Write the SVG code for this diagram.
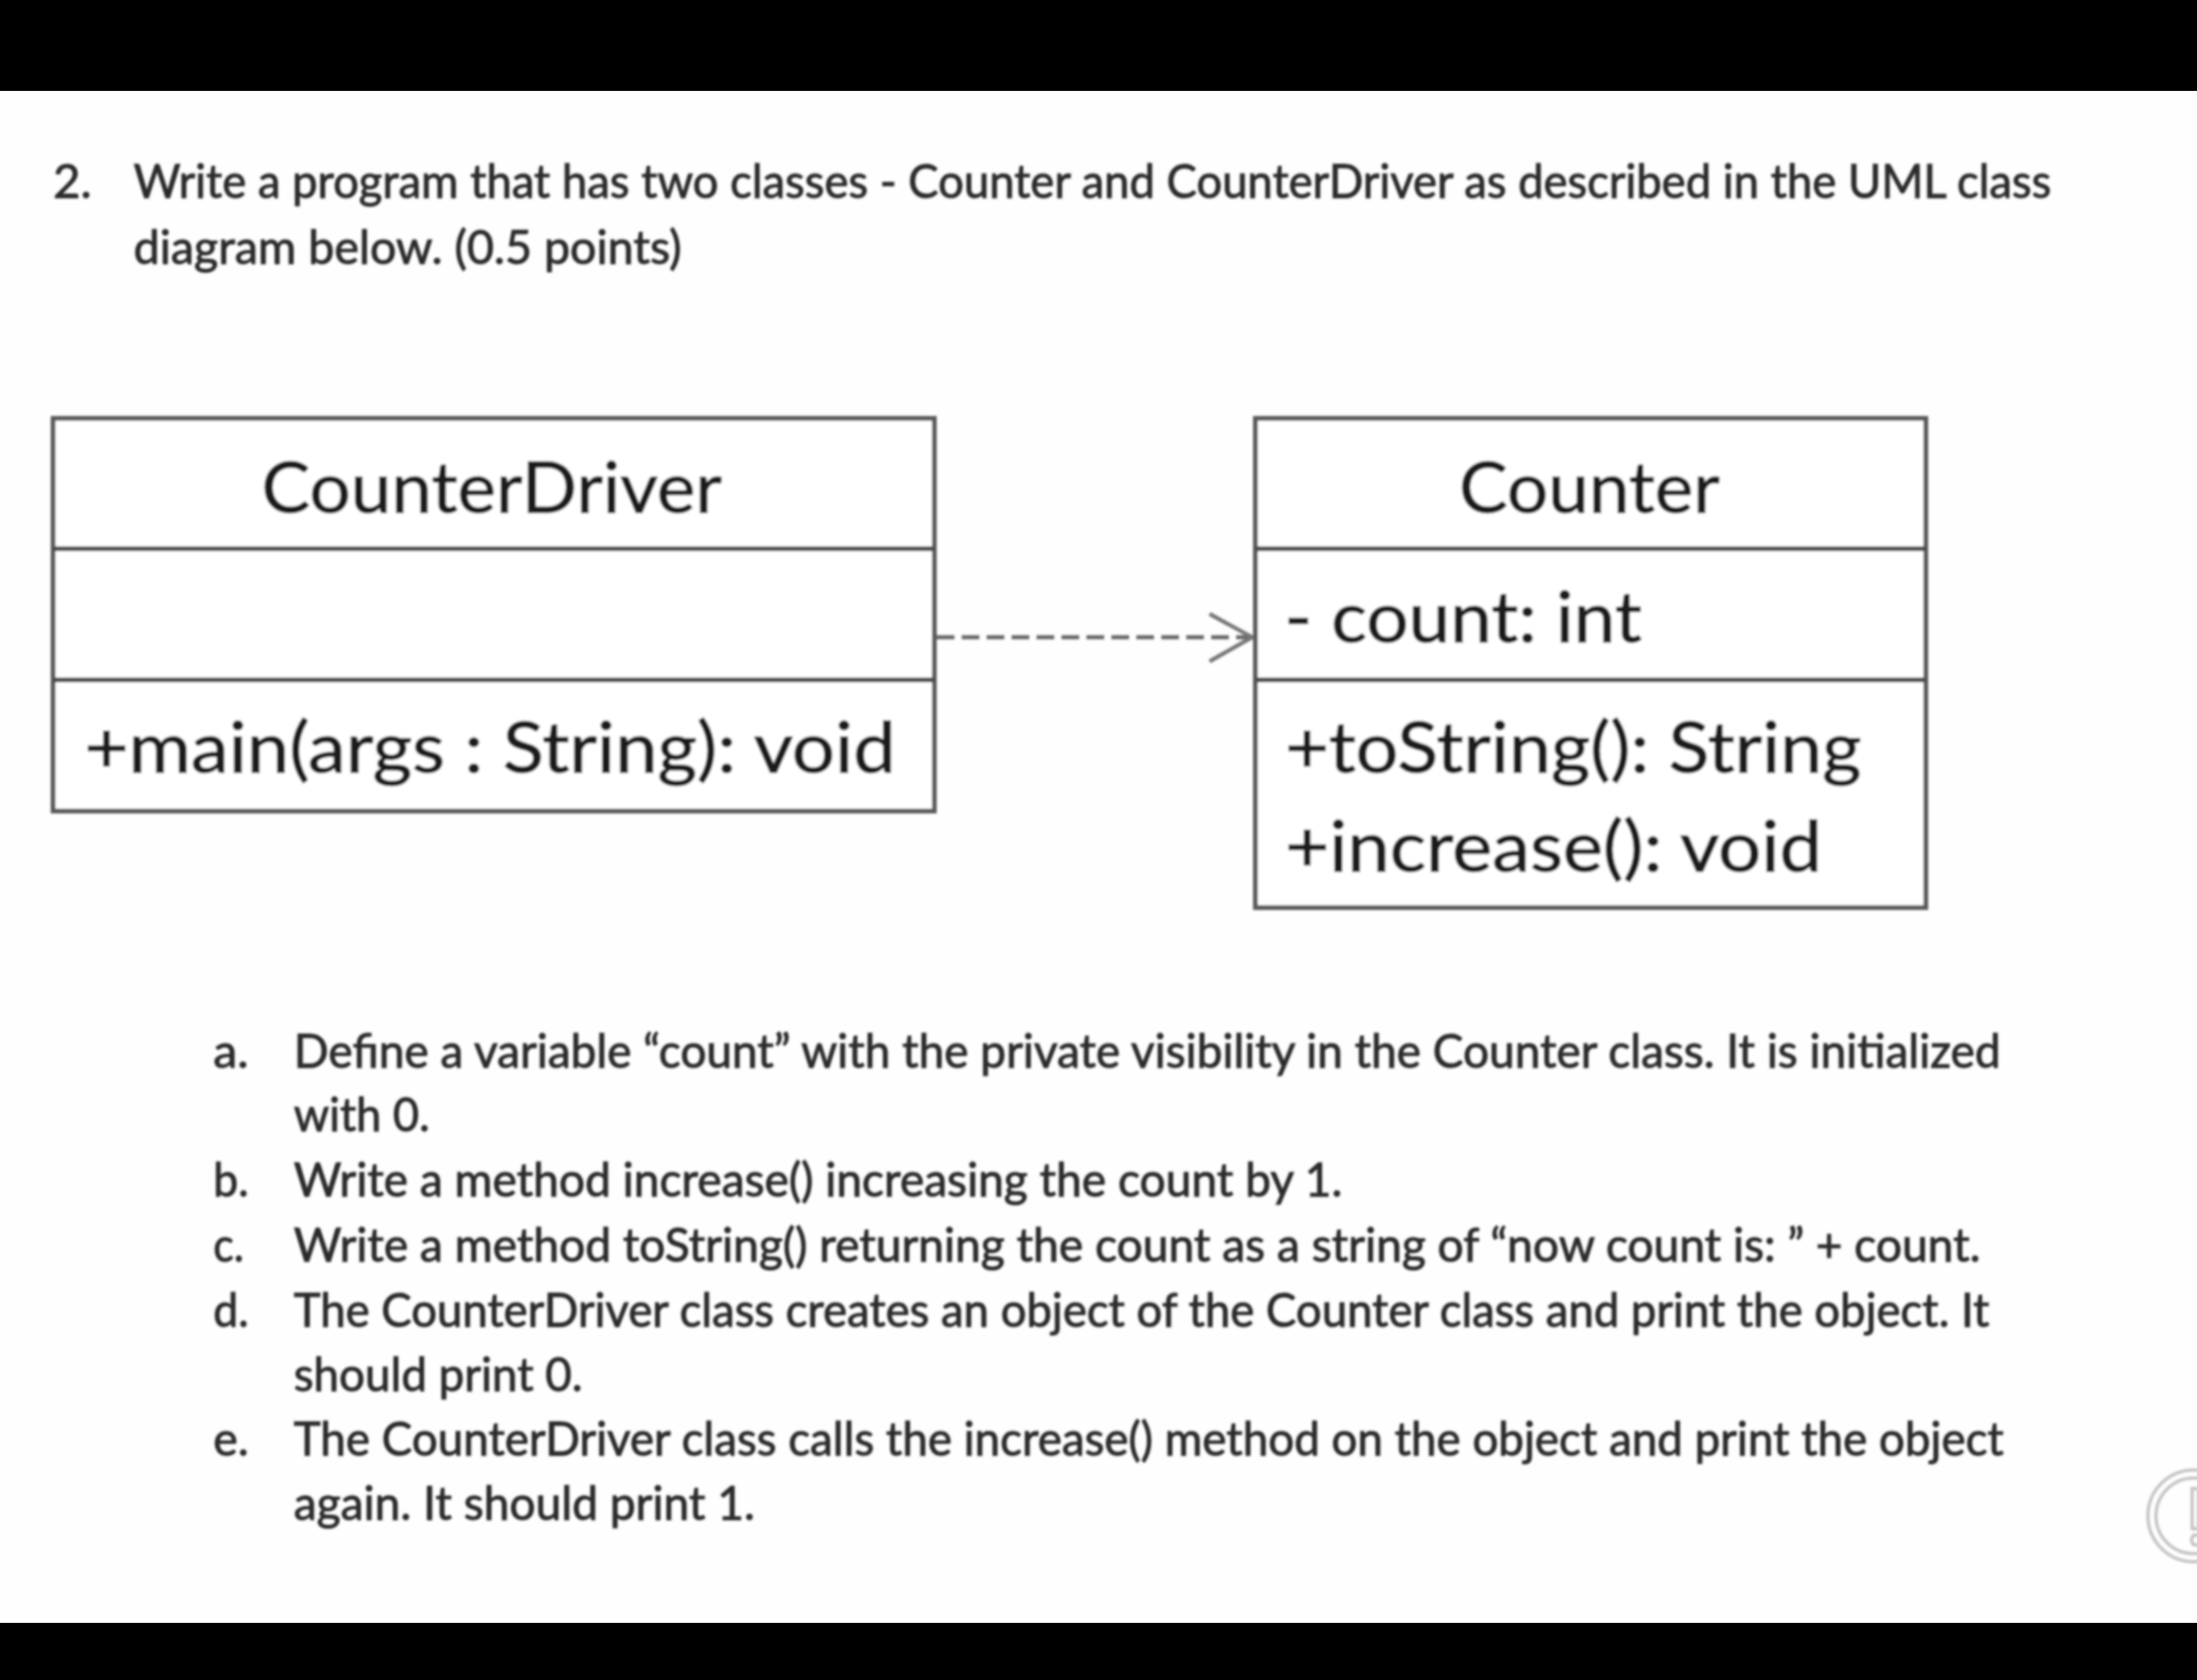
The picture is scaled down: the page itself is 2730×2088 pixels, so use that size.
<svg xmlns="http://www.w3.org/2000/svg" width="2730" height="2088" viewBox="0 0 2730 2088">
<style>
.t{font-family:"Lato","Open Sans","Liberation Sans",sans-serif;fill:#2c2c2c;font-size:58px;stroke:#2c2c2c;stroke-width:1.1px}
.u{font-family:"Lato","Open Sans","Liberation Sans",sans-serif;fill:#1c1c1c;font-size:87px;stroke:#1c1c1c;stroke-width:1.3px}
.b{fill:#fff;stroke:#5c5c5c;stroke-width:6}
.d{stroke:#4c4c4c;stroke-width:6;fill:none}
.c{stroke:#666;stroke-width:5;fill:none}
</style>
<defs>
<filter id="s" x="-5%" y="-5%" width="110%" height="110%"><feGaussianBlur stdDeviation="1.6"/></filter>
<marker id="open" markerUnits="userSpaceOnUse" markerWidth="70" markerHeight="80" refX="56" refY="32" orient="auto"><path d="M3 3L56 32L3 62" fill="none" stroke="#777" stroke-width="5"/></marker>
</defs>
<rect width="2730" height="2088" fill="#fefefe"/>
<rect width="2730" height="113" fill="#000"/>
<rect y="2017" width="2730" height="71" fill="#000"/>
<g filter="url(#s)">
<g id="heading">
<text class="t" x="66" y="246" textLength="48" lengthAdjust="spacingAndGlyphs">2.</text>
<text class="t" x="166" y="246" textLength="2383" lengthAdjust="spacingAndGlyphs">Write a program that has two classes - Counter and CounterDriver as described in the UML class</text>
<text class="t" x="166" y="328" textLength="681" lengthAdjust="spacingAndGlyphs">diagram below. (0.5 points)</text>
</g>
<g id="connectors">
<path class="c" stroke-dasharray="22 9" d="M1164 792H1556" marker-end="url(#open)"/>
</g>
<g id="counter-driver">
<rect class="b" x="66" y="520" width="1095" height="488"/>
<path class="d" d="M66 682H1161M66 845H1161"/>
<text class="u" x="325" y="637" textLength="572" lengthAdjust="spacingAndGlyphs">CounterDriver</text>
<text class="u" x="105" y="960" textLength="1008" lengthAdjust="spacingAndGlyphs">+main(args : String): void</text>
</g>
<g id="counter">
<rect class="b" x="1560" y="520" width="833" height="608"/>
<path class="d" d="M1560 682H2393M1560 845H2393"/>
<text class="u" x="1813" y="637" textLength="324" lengthAdjust="spacingAndGlyphs">Counter</text>
<text class="u" x="1596" y="798" textLength="444" lengthAdjust="spacingAndGlyphs">- count: int</text>
<text class="u" x="1597" y="960" textLength="716" lengthAdjust="spacingAndGlyphs">+toString(): String</text>
<text class="u" x="1597" y="1083" textLength="667" lengthAdjust="spacingAndGlyphs">+increase(): void</text>
</g>
<g id="notes">
<text class="t" x="265" y="1327" textLength="44" lengthAdjust="spacingAndGlyphs">a.</text>
<text class="t" x="365" y="1327" textLength="2121" lengthAdjust="spacingAndGlyphs">Define a variable “count” with the private visibility in the Counter class. It is initialized</text>
<text class="t" x="365" y="1406" textLength="169" lengthAdjust="spacingAndGlyphs">with 0.</text>
<text class="t" x="265" y="1487" textLength="44" lengthAdjust="spacingAndGlyphs">b.</text>
<text class="t" x="365" y="1487" textLength="1303" lengthAdjust="spacingAndGlyphs">Write a method increase() increasing the count by 1.</text>
<text class="t" x="265" y="1568" textLength="38" lengthAdjust="spacingAndGlyphs">c.</text>
<text class="t" x="365" y="1568" textLength="2096" lengthAdjust="spacingAndGlyphs">Write a method toString() returning the count as a string of “now count is: ” + count.</text>
<text class="t" x="265" y="1649" textLength="44" lengthAdjust="spacingAndGlyphs">d.</text>
<text class="t" x="365" y="1649" textLength="2107" lengthAdjust="spacingAndGlyphs">The CounterDriver class creates an object of the Counter class and print the object. It</text>
<text class="t" x="365" y="1729" textLength="359" lengthAdjust="spacingAndGlyphs">should print 0.</text>
<text class="t" x="265" y="1809" textLength="44" lengthAdjust="spacingAndGlyphs">e.</text>
<text class="t" x="365" y="1809" textLength="2125" lengthAdjust="spacingAndGlyphs">The CounterDriver class calls the increase() method on the object and print the object</text>
<text class="t" x="365" y="1889" textLength="573" lengthAdjust="spacingAndGlyphs">again. It should print 1.</text>
</g>
<g id="badge" fill="none" stroke="#c4c4c4" stroke-width="4">
<circle cx="2726" cy="1884" r="57"/>
<circle cx="2726" cy="1884" r="47"/>
<path d="M2724 1850H2732V1900H2724ZM2732 1908H2726A8 8 0 0 0 2726 1920H2732"/>
</g>
</g>
</svg>
